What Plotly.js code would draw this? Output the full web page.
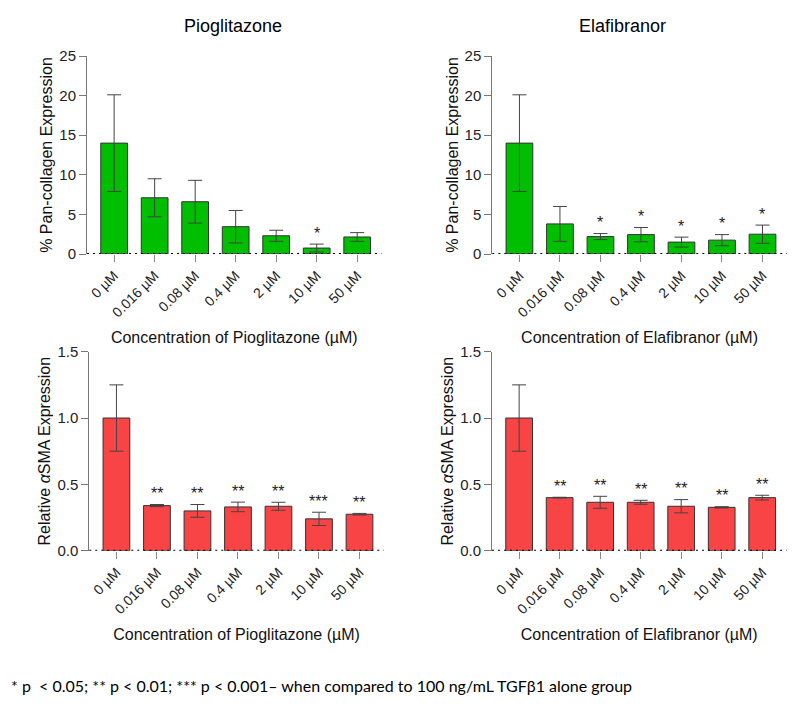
<!DOCTYPE html>
<html>
<head>
<meta charset="utf-8">
<script src="https://cdn.plot.ly/plotly-3.0.1.min.js"></script>
<style>html,body{margin:0;padding:0;background:#fff;}#chart{width:800px;height:706px;}</style>
</head>
<body>
<div id="chart"></div>
<script>
// ---- data ----
const categories = ['0 µM', '0.016 µM', '0.08 µM', '0.4 µM', '2 µM', '10 µM', '50 µM'];

const pioCollagenMean = [14.0, 7.1, 6.6, 3.45, 2.3, 0.75, 2.15];
const pioCollagenErr  = [6.1, 2.4, 2.7, 2.05, 0.7, 0.5, 0.55];
const pioCollagenSig  = ['', '', '', '', '', '*', ''];

const elaCollagenMean = [14.0, 3.8, 2.2, 2.45, 1.5, 1.75, 2.5];
const elaCollagenErr  = [6.1, 2.2, 0.38, 0.9, 0.63, 0.7, 1.15];
const elaCollagenSig  = ['', '', '*', '*', '*', '*', '*'];

const pioSmaMean = [1.0, 0.34, 0.30, 0.33, 0.335, 0.24, 0.275];
const pioSmaErr  = [0.25, 0.008, 0.048, 0.036, 0.03, 0.05, 0.006];
const pioSmaSig  = ['', '**', '**', '**', '**', '***', '**'];

const elaSmaMean = [1.0, 0.40, 0.365, 0.365, 0.335, 0.327, 0.40];
const elaSmaErr  = [0.25, 0.003, 0.045, 0.015, 0.05, 0.005, 0.018];
const elaSmaSig  = ['', '**', '**', '**', '**', '**', '**'];

const panelTitles = ['Pioglitazone', 'Elafibranor'];
const xTitles = ['Concentration of Pioglitazone (µM)', 'Concentration of Elafibranor (µM)'];
const yTitleCollagen = '% Pan-collagen Expression';
const yTitleSma = 'Relative <i>α</i>SMA Expression';
const footnote = '* p  < 0.05; ** p < 0.01; *** p < 0.001– when compared to 100 ng/mL TGFβ1 alone group';

// ---- styles ----
const FONT = '"Liberation Sans", Arial, sans-serif';
const GREEN = '#00BE00';
const RED = '#F84444';

const panels = [
  {mean: pioCollagenMean, err: pioCollagenErr, sig: pioCollagenSig, color: GREEN, xa: 'x',  ya: 'y'},
  {mean: elaCollagenMean, err: elaCollagenErr, sig: elaCollagenSig, color: GREEN, xa: 'x2', ya: 'y2'},
  {mean: pioSmaMean,      err: pioSmaErr,      sig: pioSmaSig,      color: RED,   xa: 'x3', ya: 'y3'},
  {mean: elaSmaMean,      err: elaSmaErr,      sig: elaSmaSig,      color: RED,   xa: 'x4', ya: 'y4'}
];

const traces = panels.map(p => ({
  type: 'bar',
  x: categories,
  y: p.mean,
  xaxis: p.xa,
  yaxis: p.ya,
  width: 0.66,
  marker: {color: p.color, line: {color: '#333', width: 1}},
  error_y: {type: 'data', array: p.err, visible: true, color: '#444', thickness: 1, width: 7},
  hoverinfo: 'x+y',
  showlegend: false
}));

const annotations = [];
panels.forEach(p => {
  p.sig.forEach((s, i) => {
    if (!s) return;
    annotations.push({
      xref: p.xa, yref: p.ya, x: categories[i], y: p.mean[i] + p.err[i],
      text: s, showarrow: false, yanchor: 'middle', yshift: 11,
      font: {family: FONT, size: 16, color: '#222'}
    });
  });
});
annotations.push({xref: 'paper', yref: 'paper', x: 233/800, y: 1 - 26/706, text: panelTitles[0],
  showarrow: false, xanchor: 'center', yanchor: 'middle', font: {family: FONT, size: 18, color: '#000'}});
annotations.push({xref: 'paper', yref: 'paper', x: 622/800, y: 1 - 26/706, text: panelTitles[1],
  showarrow: false, xanchor: 'center', yanchor: 'middle', font: {family: FONT, size: 18, color: '#000'}});
annotations.push({xref: 'paper', yref: 'paper', x: 9/800, y: 1 - 685/706, text: footnote,
  showarrow: false, xanchor: 'left', yanchor: 'middle', font: {family: 'Lato, sans-serif', size: 16, color: '#000'}});

function xAxis(domain, title, anchor) {
  return {
    domain: domain, anchor: anchor, type: 'category', range: [-0.67, 6.6],
    showline: false, showgrid: false, zeroline: false,
    ticks: 'outside', ticklen: 7, tickcolor: '#888', tickwidth: 1,
    tickangle: -45, tickfont: {family: FONT, size: 14, color: '#222'},
    title: {text: title, font: {family: FONT, size: 16, color: '#111'}, standoff: 12},
    automargin: false, fixedrange: true
  };
}
function yAxis(domain, title, range, dtick, fmt, anchor) {
  return {
    domain: domain, anchor: anchor, range: range, dtick: dtick, tickformat: fmt,
    showline: true, linecolor: '#777', linewidth: 1, showgrid: false, zeroline: false,
    ticks: 'outside', ticklen: 7, tickcolor: '#777', tickwidth: 1,
    tickfont: {family: FONT, size: 15, color: '#222'},
    title: {text: title, font: {family: FONT, size: 16, color: '#111'}, standoff: 2},
    automargin: false, fixedrange: true
  };
}

const yTop = [1 - 254/706, 1 - 56/706];
const yBot = [1 - 550.7/706, 1 - 351.7/706];

const shapes = ['y', 'y2', 'y3', 'y4'].map((ya, k) => ({
  type: 'line', xref: ['x', 'x2', 'x3', 'x4'][k] + ' domain', yref: ya,
  x0: 0, x1: 1, y0: 0, y1: 0,
  line: {color: '#000', width: 2, dash: '2px,4px'}
}));

const layout = {
  width: 800, height: 706,
  margin: {l: 0, r: 0, t: 0, b: 0},
  paper_bgcolor: '#fff', plot_bgcolor: '#fff',
  font: {family: FONT},
  bargap: 0.34,
  xaxis:  xAxis([87/800, 381.5/800], xTitles[0], 'y'),
  yaxis:  yAxis(yTop, yTitleCollagen, [0, 25], 5, 'd', 'x'),
  xaxis2: xAxis([492.3/800, 786.8/800], xTitles[1], 'y2'),
  yaxis2: yAxis(yTop, yTitleCollagen, [0, 25], 5, 'd', 'x2'),
  xaxis3: xAxis([89.3/800, 383.8/800], xTitles[0], 'y3'),
  yaxis3: yAxis(yBot, yTitleSma, [0, 1.5], 0.5, '.1f', 'x3'),
  xaxis4: xAxis([492/800, 786.5/800], xTitles[1], 'y4'),
  yaxis4: yAxis(yBot, yTitleSma, [0, 1.5], 0.5, '.1f', 'x4'),
  shapes: shapes,
  annotations: annotations
};

Plotly.newPlot('chart', traces, layout, {displayModeBar: false, staticPlot: true});
</script>
</body>
</html>
